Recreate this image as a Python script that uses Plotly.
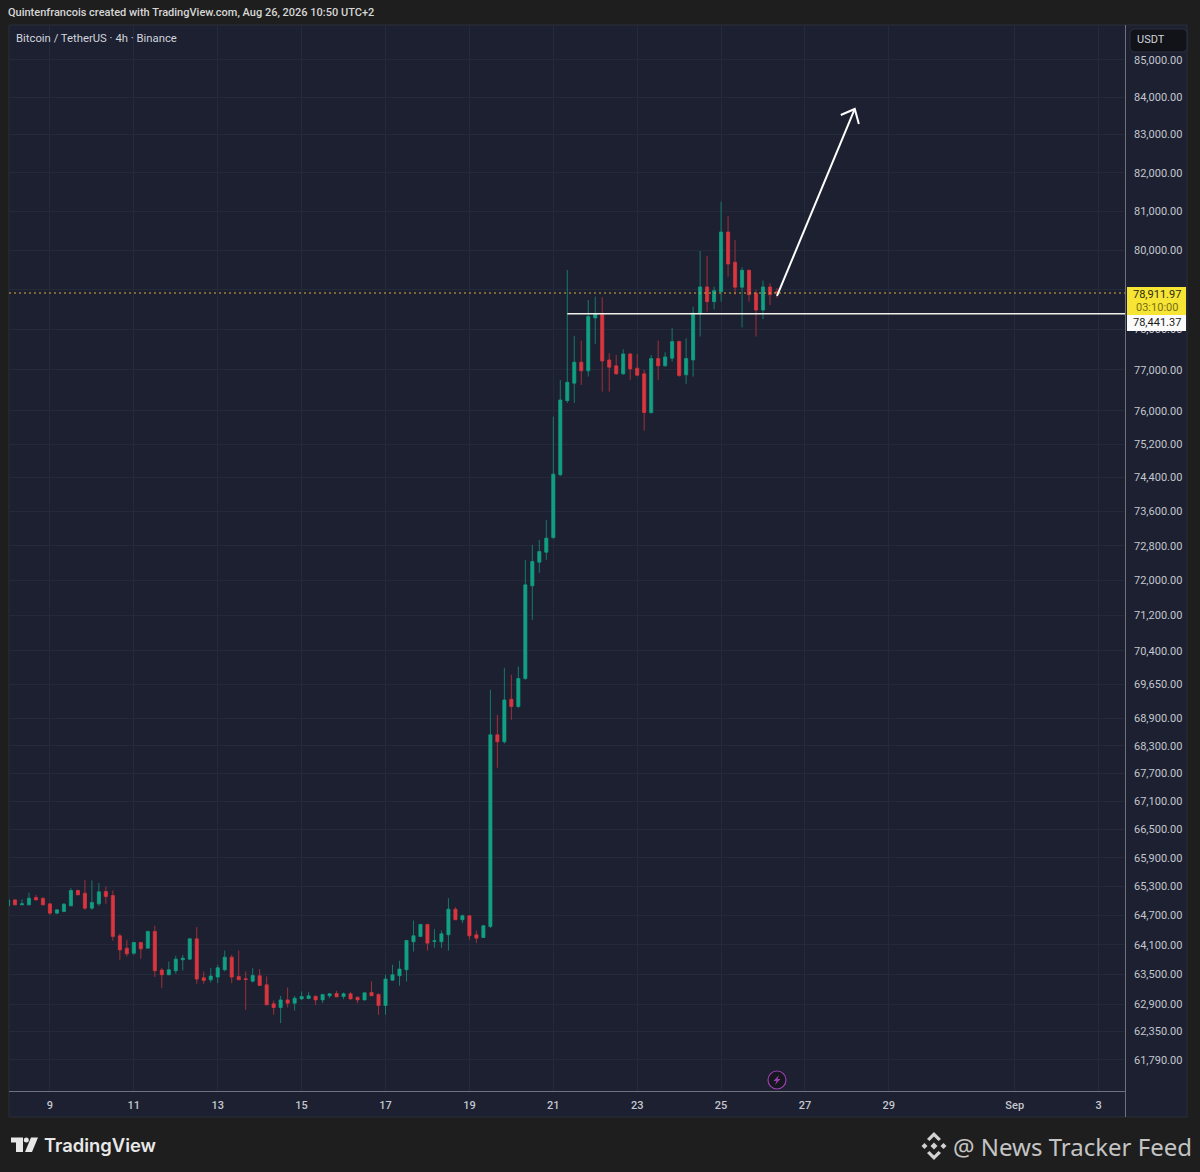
import math
import pandas as pd
import plotly.graph_objects as go

W, H = 1200, 1172
L, R, T, B = 9, 1125, 25, 1091

dates = pd.date_range("2026-08-08 00:00", periods=111, freq="4h")

opens = [64901,65024,64921,64921,65073,65059,64942,64750,64784,64901,65219,65163,64853,64942,65198,65115,64284,64031,63928,64147,64031,64373,63584,63490,63571,63794,63807,64222,63429,63388,63442,63591,63847,63456,63409,63361,63469,63287,62903,62830,62983,62917,
         63003,63010,63057,62983,63064,63112,63050,63105,63037,62983,63132,63091,62870,63381,63469,63591,64160,64270,64517,64168,64160,64305,64832,64613,64695,64305,64250,64476,
         68540,68386,69320,69160,69782,71875,72420,72650,72990,74465,76248,76675,77190,76976,78288,78388,77245,77099,76903,77393,77042,76903,75959,77278,77099,77288,77698,76878,77245,78388,79065,78695,78946,80463,79690,79058,79485,78905,78485,79065,78946]
highs = [65038,65040,65038,65177,65129,65070,64950,64830,64960,65268,65240,65442,65428,65372,65303,65219,64325,64202,64160,64160,64390,64490,63625,63760,63875,63895,64230,64462,63557,63625,63692,63982,63895,63982,63557,63625,63605,63456,62970,63064,63233,63064,
         63152,63138,63070,63105,63115,63166,63132,63138,63050,63130,63355,63118,63490,63692,63774,64202,64599,64530,64530,64421,64394,65059,64873,64720,64710,64394,64510,69530,
         68978,70020,69864,70050,72473,72820,72937,73404,75862,76752,79493,77840,77723,78737,78820,78805,77410,77368,77508,77420,77393,77000,77368,77723,77434,78032,77720,77780,78570,79977,79850,79072,81245,80875,80259,79560,79510,78989,79225,79158,79040]
lows = [64880,64910,64914,64910,65020,64914,64716,64730,64770,64890,65120,64818,64818,64901,64942,64181,63794,63861,63895,63814,64020,63442,63220,63480,63510,63577,63790,63307,63307,63334,63321,63557,63321,63388,62784,63334,63267,62883,62684,62518,62830,62771,
        62983,62997,62883,62917,63017,63037,62997,62990,62917,62970,63060,62684,62684,63368,63267,63355,63962,64260,63982,64037,64031,63982,64613,64544,64202,64133,64240,64440,
        67822,68350,68870,69130,69750,71100,72174,72473,72960,74440,76193,76193,76630,76836,77640,76468,76468,76878,76880,76755,76840,75524,75930,76755,77080,77205,76830,76658,76836,77823,78445,78505,78695,79324,78867,78050,78695,77823,78255,78611,78787]
closes = [65024,64921,64942,65059,65024,64921,64750,64818,64935,65219,65129,64853,64969,65191,65094,64270,63996,63915,64147,64017,64373,63571,63490,63591,63807,63827,64222,63402,63375,63463,63632,63847,63442,63388,63395,63476,63274,62883,62830,62983,62917,63017,
          63050,63064,62983,63091,63105,63044,63105,63003,62983,63125,63064,62870,63402,63490,63605,64188,64284,64517,64133,64181,64325,64832,64613,64695,64284,64236,64490,68540,
          68386,69307,69160,69782,71898,72434,72664,72977,74482,76265,76695,77190,76976,78320,78388,77220,77066,76903,77393,77025,76870,75959,77278,77099,77319,77698,76860,77278,78405,79065,78695,78971,80463,79645,79058,79485,78870,78485,79065,78870,78911.97]

price_ticks = [85000,84000,83000,82000,81000,80000,79000,78000,77000,76000,75200,74400,73600,72800,72000,71200,70400,69650,68900,68300,67700,67100,66500,65900,65300,64700,64100,63500,62900,62350,61790]
price_labels = ["" if v == 79000 else f"{v:,.2f}" for v in price_ticks]
date_ticks = ["2026-08-09","2026-08-11","2026-08-13","2026-08-15","2026-08-17","2026-08-19","2026-08-21","2026-08-23","2026-08-25","2026-08-27","2026-08-29","2026-09-01","2026-09-03"]
date_labels = ["9","11","13","15","17","19","21","23","25","27","29","Sep","3"]

x_range = ["2026-08-08 00:34", "2026-09-03 15:07"]
y_range = [85954, 61179]
last_price = 78911.97
level_price = 78390
level_start = "2026-08-21 08:00"

arrow_x = ["2026-08-26 08:00", "2026-08-28 04:30", None, "2026-08-27 20:30", "2026-08-28 04:30", "2026-08-28 06:50"]
arrow_y = [78840, 83682, None, 83522, 83682, 83282]

BG = "#1e1e1e"
NAVY = "#1c2030"
GRID = "#252a3a"
AXIS = "#6f727c"
TXT = "#c4c7cf"


def xp(px):
    return (px - L) / (R - L)


def yp(py):
    return (B - py) / (B - T)


def rect(x0, y0, x1, y1, fill, layer="above", line=None, width=0):
    return dict(type="rect", xref="paper", yref="paper", x0=xp(x0), x1=xp(x1), y0=yp(y0), y1=yp(y1),
                fillcolor=fill, line=dict(color=line or fill, width=width), layer=layer)


def poly(points, fill, line=None, width=0):
    d = "M " + " L ".join(f"{xp(a):.5f},{yp(b):.5f}" for a, b in points) + " Z"
    return dict(type="path", xref="paper", yref="paper", path=d, fillcolor=fill,
                line=dict(color=line or fill, width=width), layer="above")


def label(px, py, text, size=11, color=TXT, anchor="left", family="Roboto", weight=None):
    f = dict(family=family, size=size, color=color)
    if weight:
        f["weight"] = weight
    shift = -2 if anchor == "left" else 0
    return dict(xref="paper", yref="paper", x=xp(px + shift), y=yp(py), text=text, showarrow=False,
                xanchor=anchor, yanchor="middle", font=f)


fig = go.Figure()
fig.add_trace(go.Candlestick(
    x=dates, open=opens, high=highs, low=lows, close=closes,
    increasing=dict(line=dict(color="rgba(18,160,133,0.7)", width=1), fillcolor="#12a085"),
    decreasing=dict(line=dict(color="rgba(217,54,63,0.7)", width=1), fillcolor="#d9363f"),
    whiskerwidth=0, hoverinfo="skip", showlegend=False))
fig.add_trace(go.Scatter(x=x_range, y=[last_price, last_price], mode="lines",
                         line=dict(color="#d8ae3a", width=1, dash="2px,3px"), hoverinfo="skip", showlegend=False))
fig.add_trace(go.Scatter(x=[level_start, x_range[1]], y=[level_price, level_price], mode="lines",
                         line=dict(color="#f0f0ea", width=1.5), hoverinfo="skip", showlegend=False))
fig.add_trace(go.Scatter(x=arrow_x, y=arrow_y, mode="lines",
                         line=dict(color="#ffffff", width=2), hoverinfo="skip", showlegend=False))

shapes = [
    rect(L, T, 1187, 1117, NAVY, layer="below", line="#2b2e38", width=1),
    rect(9, 1091, 1125, 1092, AXIS),
    rect(1125, 25, 1126, 1117, AXIS),
    # USDT button
    poly([(1133, 29), (1184, 29), (1187, 32), (1187, 49), (1184, 52), (1133, 52), (1130, 49), (1130, 32)],
         "#121318", line="#2c3040", width=1),
    # price labels
    rect(1127, 287, 1186, 315, "#f6e534"),
    rect(1127, 315, 1186, 331, "#fbfbfb"),
    # event marker
    dict(type="circle", xref="paper", yref="paper", x0=xp(768), x1=xp(786), y0=yp(1071), y1=yp(1089),
         fillcolor="#17171f", line=dict(color="#9a3fb0", width=1.2), layer="above"),
    poly([(779, 1075), (773.5, 1081), (776.5, 1081), (775, 1085), (780.5, 1079), (777.5, 1079)], "#9a3fb0"),
    # TradingView mark
    poly([(11, 1137.5), (23, 1137.5), (23, 1152), (16, 1152), (16, 1142.5), (11, 1142.5)], "#e8e8e8"),
    dict(type="circle", xref="paper", yref="paper", x0=xp(23.8), x1=xp(28.8), y0=yp(1137.5), y1=yp(1142.5),
         fillcolor="#e8e8e8", line=dict(width=0), layer="above"),
    poly([(31, 1137.5), (38, 1137.5), (32, 1152), (25, 1152)], "#e8e8e8"),
    # Binance mark
    poly([(934, 1132), (941, 1139), (938.5, 1141), (934, 1136.5), (929.5, 1141), (927, 1139)], "#d2d2d2"),
    poly([(934, 1160), (941, 1153), (938.5, 1151), (934, 1155.5), (929.5, 1151), (927, 1153)], "#d2d2d2"),
    poly([(924.5, 1143), (927.5, 1146), (924.5, 1149), (921.5, 1146)], "#d2d2d2"),
    poly([(943.5, 1143), (946.5, 1146), (943.5, 1149), (940.5, 1146)], "#d2d2d2"),
    poly([(934, 1142.5), (937.5, 1146), (934, 1149.5), (930.5, 1146)], "#d2d2d2"),
]

annotations = [
    label(8, 13, "Quintenfrancois created with TradingView.com, Aug 26, 2026 10:50 UTC+2", size=11, color="#d6d6d6", weight=500),
    label(16, 38, "Bitcoin / TetherUS · 4h · Binance", size=11.3, color="#d1d4dc"),
    label(1137, 40, "USDT", size=11, color="#d1d4dc"),
    label(1157, 294, "78,911.97", size=11, color="#2a2a14", anchor="center"),
    label(1157, 307, "03:10:00", size=11, color="#7a6f12", anchor="center"),
    label(1157, 322, "78,441.37", size=11, color="#1a1a1a", anchor="center"),
    label(44, 1145, "TradingView", size=18.4, color="#e8e8e8", family="Inter", weight=600),
    label(953, 1146, "@ News Tracker Feed", size=24, color="#c4c4c4", family="Noto Sans"),
]

fig.update_layout(
    width=W, height=H, margin=dict(l=L, r=W - R, t=T, b=H - B, pad=0),
    paper_bgcolor=BG, plot_bgcolor=NAVY, showlegend=False, hovermode=False,
    shapes=shapes, annotations=annotations, boxgap=0.35,
    font=dict(family="Roboto", size=11, color=TXT),
    xaxis=dict(type="date", range=x_range, tickmode="array", tickvals=date_ticks, ticktext=date_labels,
               showgrid=True, gridcolor=GRID, gridwidth=1, zeroline=False, showline=False,
               ticks="", rangeslider=dict(visible=False), tickfont=dict(family="Roboto", size=11, color=TXT, weight=500),
               ticklabelstandoff=6),
    yaxis=dict(type="log", side="right", range=[math.log10(v) for v in reversed(y_range)],
               tickmode="array", tickvals=price_ticks, ticktext=price_labels,
               showgrid=True, gridcolor=GRID, gridwidth=1, zeroline=False, showline=False,
               ticks="", tickfont=dict(family="Roboto", size=11, color=TXT), ticklabelstandoff=8),
)

fig.write_html("out.html", config={"displayModeBar": False},
               post_script="document.body.style.margin='0';document.documentElement.style.overflow='hidden';")
